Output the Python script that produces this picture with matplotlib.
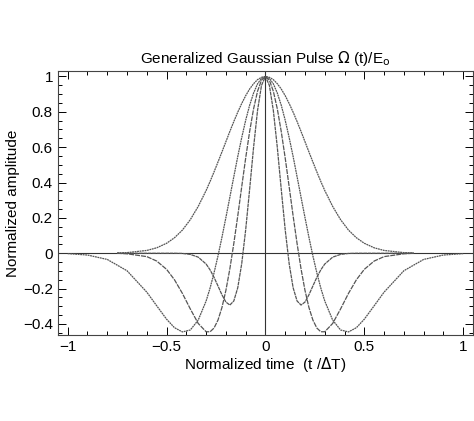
import matplotlib
matplotlib.use("Agg")
import matplotlib.pyplot as plt
from matplotlib.ticker import MultipleLocator

plt.rcParams['font.family'] = ['Liberation Sans', 'DejaVu Sans']

# half-axis sample points (curves are symmetric about t = 0)
t_short = [0, .02, .04, .06, .08, .10, .12, .14, .16, .18, .20, .22, .24, .26,
           .28, .30, .34, .38, .42, .46, .50, .55, .60, .70, .75]
t_long = [0, .02, .04, .06, .08, .10, .12, .14, .16, .18, .20, .22, .24, .26,
          .28, .30, .34, .38, .42, .46, .50, .55, .60, .70, .80, .90, 1.0]

gauss = [1, .995, .982, .959, .929, .891, .847, .798, .745, .689, .631, .573,
         .516, .460, .406, .355, .265, .190, .131, .0877, .0564, .0308, .0159,
         .0036, .0016]
narrow = [1, .949, .807, .599, .361, .132, -.059, -.195, -.270, -.293, -.276,
          -.235, -.185, -.136, -.094, -.061, -.022, -.0065, -.001, 0, 0, 0, 0, 0, 0]
middle = [1, .979, .916, .817, .688, .538, .376, .211, .055, -.088, -.210,
          -.307, -.378, -.423, -.444, -.444, -.397, -.315, -.227, -.150, -.091,
          -.044, -.019, -.003, 0]
wide = [1, .989, .958, .906, .837, .752, .654, .547, .433, .317, .202, .090,
        -.015, -.111, -.197, -.270, -.378, -.434, -.445, -.421, -.373, -.297,
        -.220, -.099, -.035, -.010, -.002]

def mirror(t, y):
    return [-v for v in t[::-1]] + t[1:], y[::-1] + y[1:]

fig = plt.figure(figsize=(4.74, 4.21), dpi=100)
ax = fig.add_axes([0.122, 0.204, 0.876, 0.627])

ax.axhline(0, color='#333333', lw=0.8)
ax.axvline(0, color='#333333', lw=0.8)

for t, y, ls in [(t_short, gauss, (0, (1.5, 0.5))), (t_short, narrow, (0, (3, 0.5))),
                 (t_short, middle, (0, (4, 0.8))), (t_long, wide, (0, (1.5, 0.5)))]:
    x, yy = mirror(t, y)
    ax.plot(x, yy, color='#555555', lw=0.9, ls=ls)

ax.set_xlim(-1.05, 1.05)
ax.set_ylim(-0.463, 1.03)
ax.xaxis.set_major_locator(MultipleLocator(0.5))
ax.xaxis.set_minor_locator(MultipleLocator(0.1))
ax.yaxis.set_major_locator(MultipleLocator(0.2))
ax.yaxis.set_minor_locator(MultipleLocator(0.05))
fmt = plt.FuncFormatter(lambda v, p: '0' if abs(v) < 1e-9 else f'{v:g}'.replace('-', '\u2212'))
ax.xaxis.set_major_formatter(fmt)
ax.yaxis.set_major_formatter(fmt)
ax.tick_params(which='both', direction='in', top=True, right=True, labelsize=11, width=0.7)
ax.tick_params(which='major', length=6)
ax.tick_params(which='minor', length=3)
for s in ax.spines.values():
    s.set_linewidth(0.8)
    s.set_color('#444444')

ax.set_title('Generalized Gaussian Pulse $\\Omega$ (t)/E$_\\mathrm{o}$', fontsize=11)
ax.set_xlabel('Normalized time  (t /$\\Delta$T)', fontsize=11, labelpad=1)
ax.set_ylabel('Normalized amplitude', fontsize=11, labelpad=2)

fig.savefig('out.png', dpi=100)
